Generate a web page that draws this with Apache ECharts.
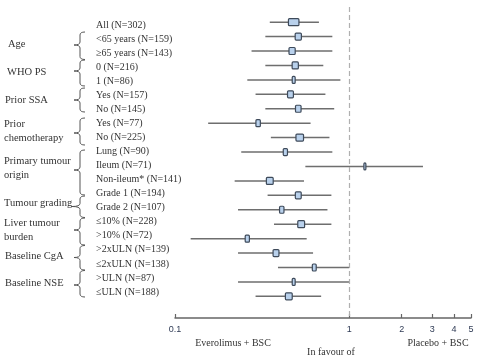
<!DOCTYPE html>
<html>
<head>
<meta charset="utf-8">
<script src="https://cdn.jsdelivr.net/npm/echarts@6/dist/echarts.min.js"></script>
<style>html,body{margin:0;padding:0;background:#fff}#c{width:481px;height:361px}</style>
</head>
<body>
<div id="c"></div>
<script>
// ---- data ----
const rowLabels = ['All (N=302)','<65 years (N=159)','\u226565 years (N=143)','0 (N=216)','1 (N=86)',
  'Yes (N=157)','No (N=145)','Yes (N=77)','No (N=225)','Lung (N=90)','Ileum (N=71)','Non-ileum* (N=141)',
  'Grade 1 (N=194)','Grade 2 (N=107)','\u226410% (N=228)','>10% (N=72)','>2xULN (N=139)','\u22642xULN (N=138)',
  '>ULN (N=87)','\u2264ULN (N=188)'];
const hazardRatio = [0.48,0.51,0.47,0.49,0.48,0.46,0.51,0.30,0.52,0.43,1.23,0.35,0.51,0.41,0.53,0.26,0.38,0.63,0.48,0.45];
const ciLower     = [0.35,0.33,0.275,0.33,0.26,0.29,0.33,0.155,0.355,0.24,0.56,0.22,0.34,0.23,0.37,0.123,0.23,0.39,0.23,0.29];
const ciUpper     = [0.67,0.80,0.80,0.71,0.89,0.73,0.82,0.60,0.77,0.80,2.65,0.55,0.79,0.75,0.79,0.57,0.62,1.00,1.00,0.69];
// relative weight of each subgroup (box size), All = 100
const relWeight   = [100,59,59,59,28,56,53,42,72,40,19,65,56,42,65,40,56,37,28,65];
const groupLabels = ['Age','WHO PS','Prior SSA','Prior\nchemotherapy','Primary tumour\norigin','Tumour grading','Liver tumour\nburden','Baseline CgA','Baseline NSE'];
const tickValues = [0.1,1,2,3,4,5];

const seriesData = hazardRatio.map((v,i)=>[v, ciLower[i], ciUpper[i], i, relWeight[i]]);

// ---- layout helpers (decorations) ----
const groupPos = [[8,44.5],[7,72],[5,100],[4,131.5],[4,168.5],[4,203],[4,230.5],[5,256],[5,283.5]];
const braces = [[32,45,59.5],[60,71,86],[88,100,112],[118,133,145],[150,170,195],[196,206.5,217.5],[218,230,245],[245.5,257.5,270],[270.5,285,297]];
const braceStyle = {fill:'none', stroke:'#555', lineWidth:1};
function braceParts(y0,ym,y1,xt){
  const xv=80, xe=85, r=3;
  const bz=(x1,y1,cx,cy,x2,y2)=>({type:'bezierCurve', silent:true, shape:{x1,y1,cpx1:cx,cpy1:cy,x2,y2}, style:braceStyle});
  const ln=(x1,y1,x2,y2)=>({type:'line', silent:true, shape:{x1,y1,x2,y2}, style:braceStyle});
  return [
    bz(xe,y0,xv,y0,xv,y0+r), ln(xv,y0+r,xv,ym-r), bz(xv,ym-r,xv,ym,xt,ym),
    bz(xt,ym,xv,ym,xv,ym+r), ln(xv,ym+r,xv,y1-r), bz(xv,y1-r,xv,y1,xe,y1)
  ];
}
const graphics = [];
groupLabels.forEach((t,i)=>{
  graphics.push({type:'text', x:groupPos[i][0], y:groupPos[i][1], silent:true,
    style:{text:t, font:'10.5px "Liberation Serif"', fill:'#333', lineHeight:14, verticalAlign:'middle'}});
});
braces.forEach((b,i)=>{ braceParts(b[0],b[1],b[2], i===5?72:74).forEach(p=>graphics.push(p)); });
[['Everolimus + BSC',233,343],['In favour of',331,352],['Placebo + BSC',438,343]].forEach(a=>{
  graphics.push({type:'text', x:a[1], y:a[2], silent:true,
    style:{text:a[0], font:'10px "Liberation Serif"', fill:'#333', align:'center', verticalAlign:'middle'}});
});

const chart = echarts.init(document.getElementById('c'), null, {renderer:'canvas'});
chart.setOption({
  animation:false,
  graphic: graphics,
  grid:[
    {left:175, right:10, top:7, bottom:43},
    {left:94, width:1, top:18, height:281}
  ],
  xAxis:[
    {type:'log', logBase:10, min:0.1, max:5, gridIndex:0, position:'bottom',
     axisLine:{show:true, onZero:false, lineStyle:{color:'#666', width:1.5}},
     axisTick:{show:true, inside:true, length:4, customValues:tickValues, lineStyle:{color:'#666', width:1.2}},
     axisLabel:{show:true, customValues:tickValues, margin:7, color:'#2f3b55', fontSize:9, fontFamily:'Liberation Sans',
       formatter:v=>String(+(+v).toFixed(1))},
     splitLine:{show:false}, minorTick:{show:false}},
    {type:'value', gridIndex:1, show:false}
  ],
  yAxis:[
    {type:'value', gridIndex:0, inverse:true, min:-1.05, max:20.5, show:false},
    {type:'category', gridIndex:1, inverse:true, data:rowLabels, position:'right',
     axisLine:{show:false}, axisTick:{show:false},
     axisLabel:{margin:1, color:'#333', fontSize:10, fontFamily:'Liberation Serif', align:'left', interval:0}}
  ],
  series:[{
    type:'custom', xAxisIndex:0, yAxisIndex:0, data:seriesData, clip:false,
    encode:{x:[0,1,2], y:3},
    renderItem:function(params, api){
      const est=api.value(0), lo=api.value(1), hi=api.value(2), row=api.value(3), wt=api.value(4);
      const pL=api.coord([lo,row]), pH=api.coord([hi,row]), pE=api.coord([est,row]);
      const w=Math.max(2, 10.5*wt/100);
      const h=7;
      return {type:'group', children:[
        {type:'line', shape:{x1:pL[0],y1:pL[1],x2:pH[0],y2:pH[1]}, style:{stroke:'#6e6e6e', lineWidth:1.5}},
        {type:'rect', shape:{x:pE[0]-w/2, y:pE[1]-h/2, width:w, height:h, r:1},
         style:{fill:'#b9d1ec', stroke:'#3e4a5a', lineWidth:1.2}}
      ]};
    },
    markLine:{silent:true, symbol:'none', label:{show:false},
      lineStyle:{type:[5,3], color:'#b0b0b0', width:1.2},
      data:[{xAxis:1}]}
  }]
});
</script>
</body>
</html>
